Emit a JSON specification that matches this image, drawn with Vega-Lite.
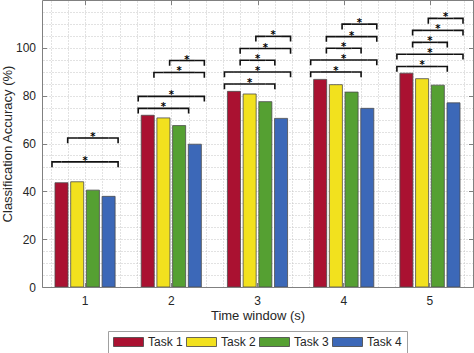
{
  "$schema": "https://vega.github.io/schema/vega-lite/v6.json",
  "width": 431,
  "height": 287,
  "autosize": {"type": "none"},
  "padding": {"left": 42, "top": 0, "right": 1, "bottom": 66},
  "background": "white",
  "config": {
    "font": "Liberation Sans",
    "view": {"stroke": null},
    "axis": {
      "labelFont": "Liberation Sans",
      "titleFont": "Liberation Sans",
      "labelColor": "#262626",
      "titleColor": "#262626",
      "labelFontSize": 12,
      "titleFontSize": 13,
      "titleFontWeight": "normal",
      "domainColor": "#808080",
      "tickColor": "#808080",
      "domainWidth": 1,
      "tickWidth": 1
    },
    "legend": {"labelFont": "Liberation Sans"}
  },
  "datasets": {
    "acc": [
      {"window": 1, "task": 1, "accuracy": 43.6},
      {"window": 1, "task": 2, "accuracy": 44.0},
      {"window": 1, "task": 3, "accuracy": 40.5},
      {"window": 1, "task": 4, "accuracy": 37.9},
      {"window": 2, "task": 1, "accuracy": 71.8},
      {"window": 2, "task": 2, "accuracy": 70.7},
      {"window": 2, "task": 3, "accuracy": 67.5},
      {"window": 2, "task": 4, "accuracy": 59.7},
      {"window": 3, "task": 1, "accuracy": 81.8},
      {"window": 3, "task": 2, "accuracy": 80.7},
      {"window": 3, "task": 3, "accuracy": 77.5},
      {"window": 3, "task": 4, "accuracy": 70.5},
      {"window": 4, "task": 1, "accuracy": 86.8},
      {"window": 4, "task": 2, "accuracy": 84.6},
      {"window": 4, "task": 3, "accuracy": 81.5},
      {"window": 4, "task": 4, "accuracy": 74.7},
      {"window": 5, "task": 1, "accuracy": 89.4},
      {"window": 5, "task": 2, "accuracy": 87.1},
      {"window": 5, "task": 3, "accuracy": 84.4},
      {"window": 5, "task": 4, "accuracy": 77.0}
    ],
    "pairs": [
      {"window": 1, "from": 1, "to": 4, "level": 52.3, "sig": "*"},
      {"window": 1, "from": 2, "to": 4, "level": 62.3, "sig": "*"},
      {"window": 2, "from": 1, "to": 3, "level": 74.7, "sig": "*"},
      {"window": 2, "from": 1, "to": 4, "level": 79.7, "sig": "*"},
      {"window": 2, "from": 2, "to": 4, "level": 89.7, "sig": "*"},
      {"window": 2, "from": 3, "to": 4, "level": 94.7, "sig": "*"},
      {"window": 3, "from": 1, "to": 3, "level": 84.9, "sig": "*"},
      {"window": 3, "from": 1, "to": 4, "level": 89.9, "sig": "*"},
      {"window": 3, "from": 2, "to": 3, "level": 94.8, "sig": "*"},
      {"window": 3, "from": 2, "to": 4, "level": 99.7, "sig": "*"},
      {"window": 3, "from": 3, "to": 4, "level": 104.8, "sig": "*"},
      {"window": 4, "from": 1, "to": 3, "level": 89.9, "sig": "*"},
      {"window": 4, "from": 1, "to": 4, "level": 94.9, "sig": "*"},
      {"window": 4, "from": 2, "to": 3, "level": 99.8, "sig": "*"},
      {"window": 4, "from": 2, "to": 4, "level": 104.7, "sig": "*"},
      {"window": 4, "from": 3, "to": 4, "level": 109.9, "sig": "*"},
      {"window": 5, "from": 1, "to": 3, "level": 92.2, "sig": "*"},
      {"window": 5, "from": 1, "to": 4, "level": 97.3, "sig": "*"},
      {"window": 5, "from": 2, "to": 3, "level": 102.3, "sig": "*"},
      {"window": 5, "from": 2, "to": 4, "level": 107.3, "sig": "*"},
      {"window": 5, "from": 3, "to": 4, "level": 112.3, "sig": "*"}
    ]
  },
  "layer": [
    {
      "layer": [
        {
          "data": {"name": "acc"},
          "mark": {"type": "bar", "stroke": "#4d4d4d", "strokeWidth": 0.8},
          "encoding": {
            "x": {
              "field": "window", "type": "ordinal",
              "scale": {"type": "band", "domain": [1, 2, 3, 4, 5], "paddingInner": 0.2715, "paddingOuter": 0.135},
              "axis": {"orient": "bottom", "title": "Time window (s)", "labelAngle": 0, "grid": false, "tickSize": -4.5, "labelPadding": 13, "titlePadding": 3, "zindex": 1}
            },
            "xOffset": {
              "field": "task", "type": "nominal",
              "scale": {"type": "band", "domain": [1, 2, 3, 4], "paddingInner": 0.17, "paddingOuter": 0.085}
            },
            "y": {
              "field": "accuracy", "type": "quantitative",
              "scale": {"domain": [0, 120], "nice": false},
              "axis": {"orient": "left", "title": "Classification Accuracy (%)", "values": [0, 20, 40, 60, 80, 100], "grid": false, "tickSize": -4.5, "labelPadding": 11, "titlePadding": 1, "zindex": 1}
            },
            "color": {
              "field": "task", "type": "nominal",
              "scale": {"domain": [1, 2, 3, 4], "range": ["#AA1131", "#F2E11E", "#55A032", "#3C68B8"]},
              "legend": {
                "orient": "none", "legendX": 66, "legendY": 331, "direction": "horizontal",
                "title": null,
                "symbolType": "M-1,-0.3H1V0.3H-1Z", "symbolSize": 900,
                "symbolStrokeColor": "#444444", "symbolStrokeWidth": 0.8, "symbolOpacity": 1,
                "clipHeight": 12,
                "labelExpr": "'Task ' + datum.label",
                "labelFontSize": 12, "labelColor": "#262626", "labelOffset": 4,
                "columnPadding": 3, "padding": 5,
                "strokeColor": "#a0a0a0", "fillColor": "white"
              }
            }
          }
        },
        {
          "data": {"name": "pairs"},
          "transform": [{"fold": ["from", "to"], "as": ["end", "task"]}],
          "mark": {"type": "line", "color": "#111111", "strokeWidth": 1.6},
          "encoding": {
            "x": {"field": "window", "type": "ordinal", "scale": {"type": "band", "domain": [1, 2, 3, 4, 5], "paddingInner": 0.2715, "paddingOuter": 0.135}},
            "xOffset": {"field": "task", "type": "nominal", "scale": {"type": "band", "domain": [1, 2, 3, 4], "paddingInner": 0.17, "paddingOuter": 0.085}},
            "y": {"field": "level", "type": "quantitative"},
            "detail": [{"field": "window", "type": "nominal"}, {"field": "level", "type": "nominal"}]
          }
        },
        {
          "data": {"name": "pairs"},
          "transform": [{"fold": ["from", "to"], "as": ["end", "task"]}],
          "mark": {"type": "point", "filled": false, "stroke": "#111111", "strokeWidth": 1.6, "size": 361, "opacity": 1},
          "encoding": {
            "x": {"field": "window", "type": "ordinal", "scale": {"type": "band", "domain": [1, 2, 3, 4, 5], "paddingInner": 0.2715, "paddingOuter": 0.135}},
            "xOffset": {"field": "task", "type": "nominal", "scale": {"type": "band", "domain": [1, 2, 3, 4], "paddingInner": 0.17, "paddingOuter": 0.085}},
            "y": {"field": "level", "type": "quantitative"},
            "shape": {"field": "end", "type": "nominal", "scale": {"domain": ["from", "to"], "range": ["M0,0H-1V0.55", "M0,0H1V0.55"]}, "legend": null}
          }
        },
        {
          "data": {"name": "pairs"},
          "transform": [
            {"fold": ["from", "to"], "as": ["end", "task"]},
            {"aggregate": [{"op": "mean", "field": "task", "as": "mid"}], "groupby": ["window", "level", "sig"]}
          ],
          "mark": {"type": "text", "fontSize": 10, "fontWeight": "bold", "baseline": "alphabetic", "dy": 2, "color": "#000000", "font": "DejaVu Sans"},
          "encoding": {
            "x": {"field": "window", "type": "ordinal", "scale": {"type": "band", "domain": [1, 2, 3, 4, 5], "paddingInner": 0.2715, "paddingOuter": 0.135}},
            "xOffset": {"field": "mid", "type": "nominal", "scale": {"type": "point", "domain": [1, 1.5, 2, 2.5, 3, 3.5, 4], "padding": 1}},
            "y": {"field": "level", "type": "quantitative"},
            "text": {"field": "sig"}
          }
        }
      ],
      "resolve": {"scale": {"xOffset": "independent"}}
    },
    {
      "data": {"name": "acc"},
      "mark": {"type": "point", "opacity": 0},
      "encoding": {
        "x": {
          "field": "window", "type": "quantitative",
          "scale": {"domain": [0.5, 5.5], "nice": false, "zero": false},
          "axis": {
            "orient": "top", "title": null, "labels": false,
            "values": [0.6, 0.8, 1, 1.2, 1.4, 1.6, 1.8, 2, 2.2, 2.4, 2.6, 2.8, 3, 3.2, 3.4, 3.6, 3.8, 4, 4.2, 4.4, 4.6, 4.8, 5, 5.2, 5.4],
            "grid": true, "gridDash": [1, 2], "gridColor": "#c4c4c4", "gridWidth": 1,
            "tickSize": -4.5,
            "tickOpacity": {"condition": {"test": "datum.value % 1 === 0", "value": 1}, "value": 0},
            "domain": true
          }
        },
        "y": {
          "field": "accuracy", "type": "quantitative",
          "scale": {"domain": [0, 120], "nice": false},
          "axis": {
            "orient": "right", "title": null, "labels": false,
            "values": [0, 5, 10, 15, 20, 25, 30, 35, 40, 45, 50, 55, 60, 65, 70, 75, 80, 85, 90, 95, 100, 105, 110, 115, 120],
            "grid": true, "gridDash": [1, 2], "gridColor": "#c4c4c4", "gridWidth": 1,
            "tickSize": -4.5,
            "tickOpacity": {"condition": {"test": "datum.value % 20 === 0 && datum.value <= 100", "value": 1}, "value": 0},
            "domain": true
          }
        }
      }
    }
  ],
  "resolve": {"scale": {"x": "independent", "y": "independent"}}
}
